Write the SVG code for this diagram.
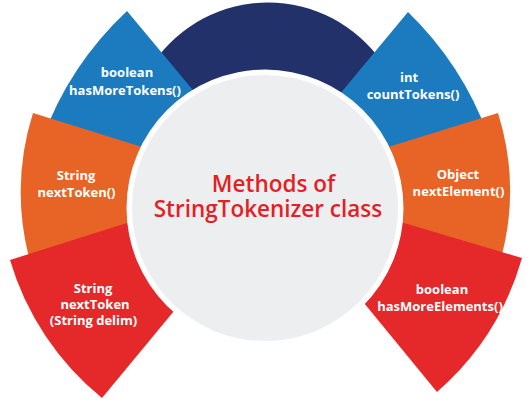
<svg xmlns="http://www.w3.org/2000/svg" width="530" height="415" viewBox="0 0 530 415">
<style>
.navy{fill:#23316b}
.blue{fill:#1c7bbf}
.orange{fill:#e86426}
.red{fill:#e52829}
.lbl{font-family:"Open Sans","Noto Sans","Liberation Sans",sans-serif;font-weight:700;font-size:13px;fill:#ffffff;text-anchor:middle}
.title{font-family:"Open Sans","Noto Sans","Liberation Sans",sans-serif;font-weight:600;font-size:22.5px;fill:#e41f26;text-anchor:middle}
</style>
<rect width="530" height="415" fill="#ffffff"/>
<g id="top-arc">
<path class="navy" d="M154,62 A139,139 0 0 1 382,62 L265,208 Z"/>
</g>
<g id="node-hasMoreTokens">
<path class="blue" d="M127,11 L252,161 L200,230 L42,140 A330,330 0 0 1 127,11 Z"/>
<text class="lbl" x="127" y="77">boolean</text>
<text class="lbl" x="125" y="94.5">hasMoreTokens()</text>
</g>
<g id="node-countTokens">
<path class="blue" d="M408,12 A330,330 0 0 1 488,135 L320,240 L300,142 Z"/>
<text class="lbl" x="409" y="81.5">int</text>
<text class="lbl" x="413" y="99">countTokens()</text>
</g>
<g id="node-nextToken">
<path class="orange" d="M33,113 A260,260 0 0 0 32,268 L200,250 L200,165 Z"/>
<text class="lbl" x="76" y="180">String</text>
<text class="lbl" x="76.5" y="196.5">nextToken()</text>
</g>
<g id="node-nextElement">
<path class="orange" d="M498,113 A260,260 0 0 1 500,262 L320,250 L330,165 Z"/>
<text class="lbl" x="458" y="178.5">Object</text>
<text class="lbl" x="458.5" y="196">nextElement()</text>
</g>
<g id="node-nextToken-delim">
<path class="red" d="M10,260 L220,193.5 L246,224 L102,398 A280,280 0 0 1 10,260 Z"/>
<text class="lbl" x="93" y="292.5">String</text>
<text class="lbl" x="95" y="308.5">nextToken</text>
<text class="lbl" x="93.5" y="325">(String delim)</text>
</g>
<g id="node-hasMoreElements">
<path class="red" d="M522,258 L310,195 L300,225 L437,392 A280,280 0 0 0 522,258 Z"/>
<text class="lbl" x="442" y="293.5">boolean</text>
<text class="lbl" x="440" y="311">hasMoreElements()</text>
</g>
<g id="center">
<circle cx="265" cy="208" r="138.5" fill="#ffffff"/>
<circle cx="265" cy="208" r="133" fill="#edeef0"/>
<text class="title" x="273.5" y="191.5">Methods of</text>
<text class="title" x="268" y="216.5">StringTokenizer class</text>
</g>
</svg>
